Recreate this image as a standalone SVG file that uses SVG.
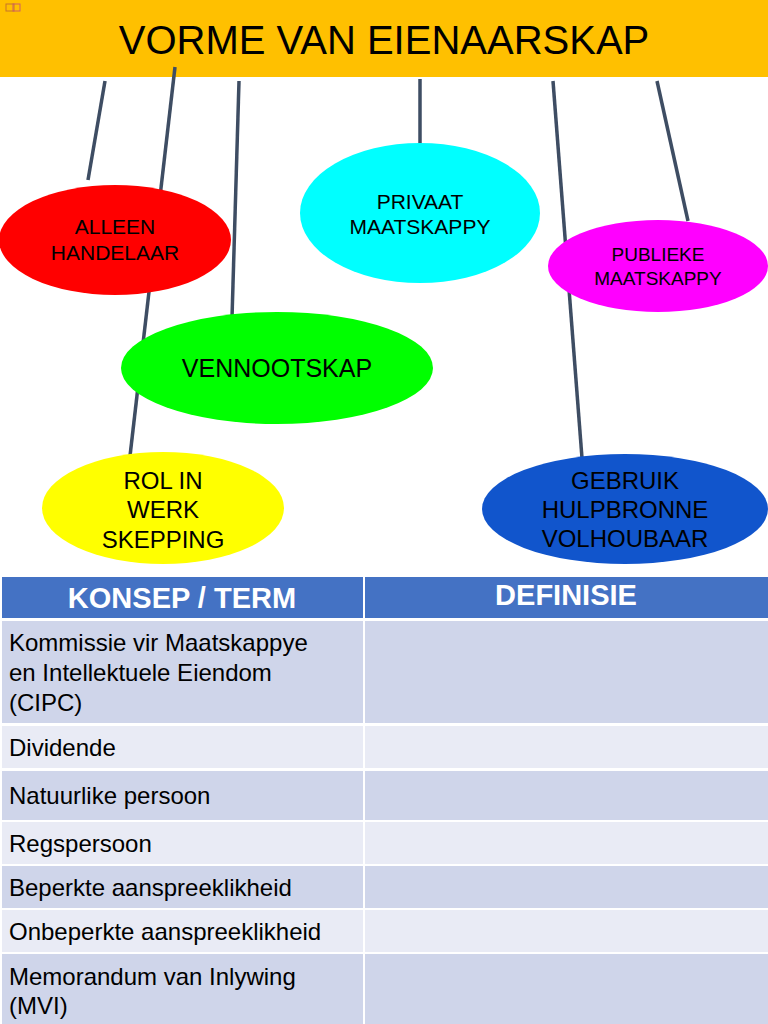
<svg xmlns="http://www.w3.org/2000/svg" width="768" height="1024" viewBox="0 0 768 1024">
<style>
text{font-family:"Liberation Sans",Arial,sans-serif}
.n{text-anchor:middle;fill:#000}
.c{stroke:#3E4D63;stroke-width:3.5;fill:none}
.h{font-size:29px;font-weight:bold;fill:#fff;text-anchor:middle}
.t{font-size:24px;fill:#000}
</style>
<rect width="768" height="1024" fill="#fff"/>
<rect width="768" height="77" fill="#FFC000"/>
<rect x="6" y="4" width="8" height="7" fill="none" stroke="#C8742A" stroke-width="1"/>
<rect x="13" y="4" width="7" height="7" fill="none" stroke="#D06060" stroke-width="1"/>
<text x="384" y="54" font-size="40" text-anchor="middle">VORME VAN EIENAARSKAP</text>
<g id="connectors">
<line class="c" x1="105" y1="81" x2="88" y2="180"/>
<line class="c" x1="175" y1="67" x2="130" y2="456"/>
<line class="c" x1="239" y1="81" x2="232" y2="318"/>
<line class="c" x1="420" y1="79" x2="420" y2="145"/>
<line class="c" x1="553" y1="81" x2="582" y2="458"/>
<line class="c" x1="657" y1="81" x2="688" y2="221"/>
</g>
<g id="alleen" font-size="21"><ellipse cx="115" cy="240" rx="116" ry="55" fill="#FF0000"/><text class="n" x="115" y="234">ALLEEN</text><text class="n" x="115" y="260">HANDELAAR</text></g>
<g id="privaat" font-size="21"><ellipse cx="420" cy="213" rx="120" ry="70" fill="#00FFFF"/><text class="n" x="420" y="209">PRIVAAT</text><text class="n" x="420" y="234">MAATSKAPPY</text></g>
<g id="publieke" font-size="19"><ellipse cx="658" cy="266" rx="110" ry="46" fill="#FF00FF"/><text class="n" x="658" y="261">PUBLIEKE</text><text class="n" x="658" y="285">MAATSKAPPY</text></g>
<g id="vennootskap" font-size="25"><ellipse cx="277" cy="368" rx="156" ry="56" fill="#00FF00"/><text class="n" x="277" y="377">VENNOOTSKAP</text></g>
<g id="rol" font-size="24"><ellipse cx="163" cy="508" rx="121" ry="56" fill="#FFFF00"/><text class="n" x="163" y="489">ROL IN</text><text class="n" x="163" y="518">WERK</text><text class="n" x="163" y="548">SKEPPING</text></g>
<g id="gebruik" font-size="24"><ellipse cx="625" cy="509" rx="143" ry="55" fill="#1155CC"/><text class="n" x="625" y="489">GEBRUIK</text><text class="n" x="625" y="518">HULPBRONNE</text><text class="n" x="625" y="547">VOLHOUBAAR</text></g>
<g id="table">
<rect x="0" y="576" width="768" height="448" fill="#fff"/>
<rect x="2" y="577" width="361" height="41" fill="#4472C4"/>
<rect x="365" y="577" width="403" height="41" fill="#4472C4"/>
<text class="h" x="182" y="608">KONSEP / TERM</text>
<text class="h" x="566" y="605">DEFINISIE</text>
<g fill="#CFD5EA">
<rect x="2" y="621" width="361" height="102"/><rect x="365" y="621" width="403" height="102"/>
<rect x="2" y="771" width="361" height="49"/><rect x="365" y="771" width="403" height="49"/>
<rect x="2" y="866" width="361" height="42"/><rect x="365" y="866" width="403" height="42"/>
<rect x="2" y="954" width="361" height="70"/><rect x="365" y="954" width="403" height="70"/>
</g>
<g fill="#E9EBF5">
<rect x="2" y="726" width="361" height="42"/><rect x="365" y="726" width="403" height="42"/>
<rect x="2" y="822" width="361" height="42"/><rect x="365" y="822" width="403" height="42"/>
<rect x="2" y="910" width="361" height="42"/><rect x="365" y="910" width="403" height="42"/>
</g>
<text class="t" x="9" y="651">Kommissie vir Maatskappye</text>
<text class="t" x="9" y="681">en Intellektuele Eiendom</text>
<text class="t" x="9" y="711">(CIPC)</text>
<text class="t" x="9" y="756">Dividende</text>
<text class="t" x="9" y="804">Natuurlike persoon</text>
<text class="t" x="9" y="852">Regspersoon</text>
<text class="t" x="9" y="896">Beperkte aanspreeklikheid</text>
<text class="t" x="9" y="940">Onbeperkte aanspreeklikheid</text>
<text class="t" x="9" y="985">Memorandum van Inlywing</text>
<text class="t" x="9" y="1014">(MVI)</text>
</g>
</svg>
